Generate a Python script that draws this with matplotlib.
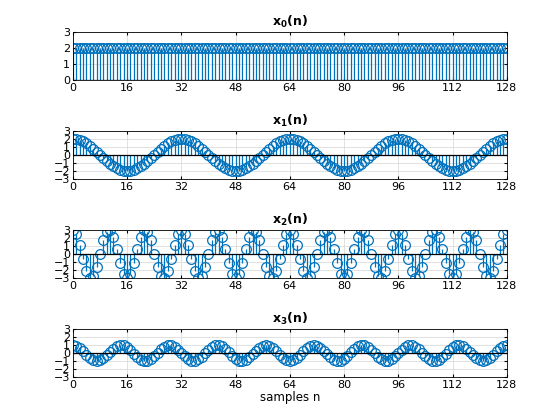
import numpy as np
import matplotlib
matplotlib.use("Agg")
import matplotlib.pyplot as plt

n = np.arange(0, 129)
amplitudes = [2, 2, 3, 1]
cycles_per_128 = [0, 4, 12, 9]
titles = [r"$\mathbf{x_0(n)}$", r"$\mathbf{x_1(n)}$", r"$\mathbf{x_2(n)}$", r"$\mathbf{x_3(n)}$"]
xticks = list(range(0, 129, 16))

fig = plt.figure(figsize=(5.6, 4.2), dpi=100)
bottoms = [0.810, 0.574, 0.338, 0.102]
c = "#0072BD"
for i in range(4):
    ax = fig.add_axes([0.130, bottoms[i], 0.775, 0.115])
    y = amplitudes[i] * np.cos(2 * np.pi * cycles_per_128[i] * n / 128)
    ml, sl, bl = ax.stem(n, y, basefmt="k-")
    plt.setp(sl, color=c, linewidth=0.9)
    plt.setp(ml, markerfacecolor="none", markeredgecolor=c, markersize=7, markeredgewidth=0.9)
    plt.setp(bl, linewidth=0.9)
    ax.set_xlim(0, 128)
    if i == 0:
        ax.set_ylim(0, 3)
        ax.set_yticks([0, 1, 2, 3])
    else:
        ax.set_ylim(-3, 3)
        ax.set_yticks([-3, -2, -1, 0, 1, 2, 3])
    ax.set_xticks(xticks)
    ax.grid(True, color="#dcdcdc", linewidth=0.6)
    ax.set_axisbelow(True)
    ax.tick_params(labelsize=8, length=2, direction="in", top=True, right=True, pad=2)
    for s in ax.spines.values():
        s.set_linewidth(0.6)
    ax.set_title(titles[i], fontsize=9, pad=4)
    if i == 3:
        ax.set_xlabel("samples n", fontsize=8.5, labelpad=1)
fig.savefig("out.png", dpi=100)
